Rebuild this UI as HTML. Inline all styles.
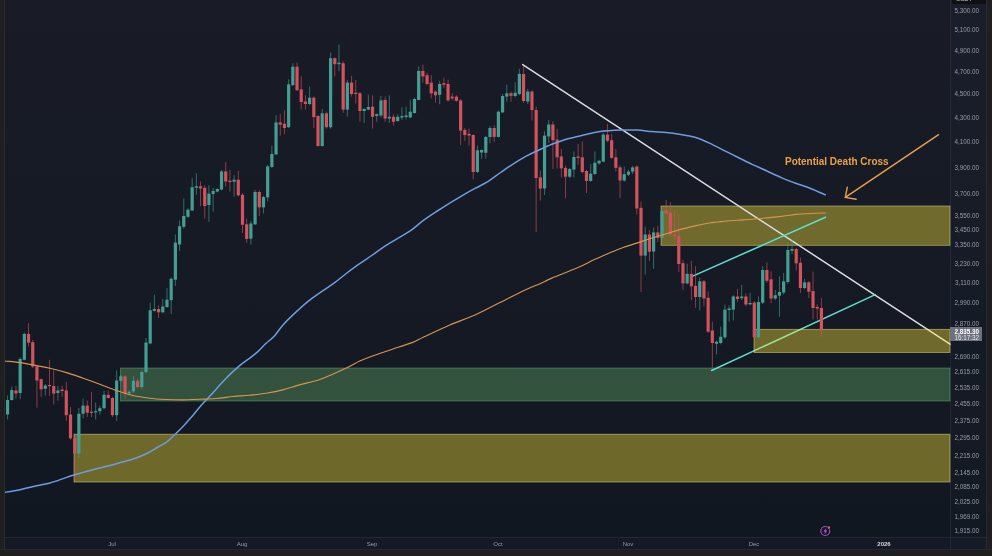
<!DOCTYPE html>
<html><head><meta charset="utf-8"><title>ETHUSDT chart</title>
<style>
html,body{margin:0;padding:0;background:#1f2023;}
body{width:992px;height:556px;overflow:hidden;position:relative;font-family:"Liberation Sans",sans-serif;}
#chart{position:absolute;left:0;top:0;width:992px;height:556px;background:linear-gradient(to bottom,#191c27 0px,#111720 549px);overflow:hidden;}
#lstrip{position:absolute;left:0;top:0;width:5.2px;height:556px;background:#1f1f20;border-right:1px solid #2a2c32;box-sizing:border-box;}
#rstrip{position:absolute;left:986.4px;top:0;width:6px;height:556px;background:#1f1f20;border-left:1.4px solid #282a30;box-sizing:border-box;}
#bstrip{position:absolute;left:0;top:548.8px;width:992px;height:8px;background:#1f1f20;border-top:1.2px solid #25272d;box-sizing:border-box;}
#paxis{position:absolute;left:950px;top:0;width:36px;height:549px;background:rgba(40,46,70,0.10);border-left:1px solid rgba(70,78,105,0.28);box-sizing:border-box;}
#taxis{position:absolute;left:4.5px;top:536.5px;width:981.5px;height:13px;border-top:1px solid rgba(70,78,105,0.28);background:rgba(40,46,70,0.14);box-sizing:border-box;}
.pl{will-change:transform;position:absolute;left:950px;width:29px;text-align:right;font-size:6.3px;line-height:8px;height:8px;color:#989ca9;white-space:nowrap;}
.tl{will-change:transform;position:absolute;top:539.5px;width:40px;text-align:center;font-size:6px;line-height:8px;color:#979ba8;}
.tl.b{font-weight:bold;color:#d6d8de;}
#cur{position:absolute;left:950px;top:327px;width:31.5px;height:14px;background:#6d7180;}
#cur div{will-change:transform;position:absolute;left:0;width:29px;text-align:right;font-size:6.3px;line-height:7px;white-space:nowrap;}
#usdt{will-change:transform;position:absolute;left:952px;top:-5px;width:33.5px;height:9px;background:#0e1014;border-radius:1px;color:#cfd1d6;font-size:6px;line-height:9px;text-align:left;padding-left:4px;box-sizing:border-box;overflow:hidden;}
</style></head><body>
<div id="chart">
<div id="paxis"></div>
<div id="taxis"></div>
<svg width="992" height="556" viewBox="0 0 992 556" style="position:absolute;left:0;top:0;filter:blur(0.4px)"><rect x="661" y="206" width="289" height="39.30000000000001" fill="rgba(255,235,59,0.39)" stroke="rgba(255,240,150,0.55)" stroke-width="0.8"/><rect x="74" y="434.2" width="876" height="47.80000000000001" fill="rgba(255,235,59,0.39)" stroke="rgba(255,240,150,0.55)" stroke-width="0.8"/><rect x="120.4" y="368" width="829.6" height="33" fill="rgba(122,204,122,0.32)" stroke="rgba(120,210,150,0.45)" stroke-width="0.8"/><line x1="522.7" y1="64.6" x2="950" y2="344.2" stroke="#dcdcdf" stroke-width="1.5" stroke-linecap="round"/><line x1="692.8" y1="276.1" x2="825.5" y2="217.2" stroke="#5fe0d0" stroke-width="1.5" stroke-linecap="round"/><line x1="711.6" y1="370.5" x2="875.3" y2="294.6" stroke="#5fe0d0" stroke-width="1.5" stroke-linecap="round"/><rect x="754" y="329.3" width="196" height="23.19999999999999" fill="rgba(255,235,59,0.39)" stroke="rgba(255,240,150,0.55)" stroke-width="0.8"/><g><rect x="7.08" y="395.5" width="1" height="24.0" fill="#459e94" opacity="0.62"/><rect x="5.97" y="400.0" width="3.2" height="14.5" fill="#459e94"/><rect x="11.27" y="386.7" width="1" height="13.9" fill="#459e94" opacity="0.62"/><rect x="10.17" y="390.0" width="3.2" height="10.0" fill="#459e94"/><rect x="15.46" y="386.0" width="1" height="12.6" fill="#d1535c" opacity="0.62"/><rect x="14.36" y="390.5" width="3.2" height="3.0" fill="#d1535c"/><rect x="19.66" y="357.3" width="1" height="42.0" fill="#459e94" opacity="0.62"/><rect x="18.56" y="359.0" width="3.2" height="34.0" fill="#459e94"/><rect x="23.86" y="332.6" width="1" height="27.7" fill="#459e94" opacity="0.62"/><rect x="22.75" y="333.9" width="3.2" height="25.9" fill="#459e94"/><rect x="28.05" y="323.0" width="1" height="23.4" fill="#d1535c" opacity="0.62"/><rect x="26.95" y="333.9" width="3.2" height="8.8" fill="#d1535c"/><rect x="32.24" y="340.0" width="1" height="28.0" fill="#d1535c" opacity="0.62"/><rect x="31.14" y="342.2" width="3.2" height="24.4" fill="#d1535c"/><rect x="36.44" y="365.0" width="1" height="42.7" fill="#d1535c" opacity="0.62"/><rect x="35.34" y="366.6" width="3.2" height="13.9" fill="#d1535c"/><rect x="40.64" y="378.4" width="1" height="18.4" fill="#d1535c" opacity="0.62"/><rect x="39.54" y="379.2" width="3.2" height="10.1" fill="#d1535c"/><rect x="44.83" y="384.0" width="1" height="11.6" fill="#459e94" opacity="0.62"/><rect x="43.73" y="385.5" width="3.2" height="3.3" fill="#459e94"/><rect x="49.02" y="359.8" width="1" height="36.2" fill="#d1535c" opacity="0.62"/><rect x="47.92" y="385.0" width="3.2" height="1.2" fill="#d1535c"/><rect x="53.22" y="370.4" width="1" height="34.0" fill="#d1535c" opacity="0.62"/><rect x="52.12" y="386.0" width="3.2" height="7.6" fill="#d1535c"/><rect x="57.41" y="386.0" width="1" height="14.6" fill="#459e94" opacity="0.62"/><rect x="56.31" y="390.5" width="3.2" height="2.5" fill="#459e94"/><rect x="61.61" y="386.0" width="1" height="10.8" fill="#d1535c" opacity="0.62"/><rect x="60.51" y="389.5" width="3.2" height="1.5" fill="#d1535c"/><rect x="65.80" y="381.7" width="1" height="39.1" fill="#d1535c" opacity="0.62"/><rect x="64.70" y="390.5" width="3.2" height="24.7" fill="#d1535c"/><rect x="70.00" y="407.0" width="1" height="32.6" fill="#d1535c" opacity="0.62"/><rect x="68.90" y="414.5" width="3.2" height="23.9" fill="#d1535c"/><rect x="74.20" y="437.0" width="1" height="43.0" fill="#d1535c" opacity="0.62"/><rect x="73.10" y="438.4" width="3.2" height="15.1" fill="#d1535c"/><rect x="78.39" y="408.0" width="1" height="50.0" fill="#459e94" opacity="0.62"/><rect x="77.29" y="413.7" width="3.2" height="39.8" fill="#459e94"/><rect x="82.58" y="398.6" width="1" height="19.6" fill="#459e94" opacity="0.62"/><rect x="81.48" y="405.6" width="3.2" height="8.1" fill="#459e94"/><rect x="86.78" y="400.6" width="1" height="16.4" fill="#d1535c" opacity="0.62"/><rect x="85.68" y="405.6" width="3.2" height="7.1" fill="#d1535c"/><rect x="90.98" y="391.8" width="1" height="25.2" fill="#d1535c" opacity="0.62"/><rect x="89.88" y="411.7" width="3.2" height="1.2" fill="#d1535c"/><rect x="95.17" y="402.6" width="1" height="16.9" fill="#459e94" opacity="0.62"/><rect x="94.07" y="411.2" width="3.2" height="1.2" fill="#459e94"/><rect x="99.36" y="405.6" width="1" height="8.9" fill="#459e94" opacity="0.62"/><rect x="98.27" y="408.2" width="3.2" height="3.0" fill="#459e94"/><rect x="103.56" y="390.5" width="1" height="18.9" fill="#459e94" opacity="0.62"/><rect x="102.46" y="394.8" width="3.2" height="13.4" fill="#459e94"/><rect x="107.76" y="390.5" width="1" height="8.1" fill="#d1535c" opacity="0.62"/><rect x="106.66" y="394.8" width="3.2" height="3.2" fill="#d1535c"/><rect x="111.95" y="396.8" width="1" height="20.2" fill="#d1535c" opacity="0.62"/><rect x="110.85" y="398.0" width="3.2" height="17.2" fill="#d1535c"/><rect x="116.14" y="370.4" width="1" height="50.4" fill="#459e94" opacity="0.62"/><rect x="115.05" y="380.5" width="3.2" height="34.7" fill="#459e94"/><rect x="120.34" y="374.8" width="1" height="6.7" fill="#459e94" opacity="0.62"/><rect x="119.24" y="376.3" width="3.2" height="4.5" fill="#459e94"/><rect x="124.54" y="375.3" width="1" height="23.2" fill="#d1535c" opacity="0.62"/><rect x="123.44" y="376.3" width="3.2" height="17.1" fill="#d1535c"/><rect x="128.73" y="390.5" width="1" height="4.5" fill="#459e94" opacity="0.62"/><rect x="127.63" y="391.7" width="3.2" height="1.7" fill="#459e94"/><rect x="132.92" y="375.8" width="1" height="17.2" fill="#459e94" opacity="0.62"/><rect x="131.82" y="380.8" width="3.2" height="10.6" fill="#459e94"/><rect x="137.12" y="378.8" width="1" height="9.6" fill="#d1535c" opacity="0.62"/><rect x="136.02" y="380.8" width="3.2" height="6.3" fill="#d1535c"/><rect x="141.31" y="370.7" width="1" height="18.9" fill="#459e94" opacity="0.62"/><rect x="140.22" y="372.0" width="3.2" height="15.1" fill="#459e94"/><rect x="145.51" y="338.0" width="1" height="35.3" fill="#459e94" opacity="0.62"/><rect x="144.41" y="342.5" width="3.2" height="29.5" fill="#459e94"/><rect x="149.70" y="302.7" width="1" height="41.6" fill="#459e94" opacity="0.62"/><rect x="148.60" y="310.3" width="3.2" height="33.2" fill="#459e94"/><rect x="153.90" y="294.7" width="1" height="16.9" fill="#459e94" opacity="0.62"/><rect x="152.80" y="309.0" width="3.2" height="1.8" fill="#459e94"/><rect x="158.09" y="305.3" width="1" height="12.6" fill="#d1535c" opacity="0.62"/><rect x="157.00" y="309.0" width="3.2" height="3.3" fill="#d1535c"/><rect x="162.29" y="299.0" width="1" height="14.3" fill="#459e94" opacity="0.62"/><rect x="161.19" y="306.5" width="3.2" height="5.8" fill="#459e94"/><rect x="166.48" y="288.0" width="1" height="19.8" fill="#459e94" opacity="0.62"/><rect x="165.38" y="299.7" width="3.2" height="7.3" fill="#459e94"/><rect x="170.68" y="277.6" width="1" height="36.4" fill="#459e94" opacity="0.62"/><rect x="169.58" y="278.8" width="3.2" height="21.4" fill="#459e94"/><rect x="174.88" y="234.4" width="1" height="51.6" fill="#459e94" opacity="0.62"/><rect x="173.78" y="242.7" width="3.2" height="37.0" fill="#459e94"/><rect x="179.07" y="220.5" width="1" height="30.3" fill="#459e94" opacity="0.62"/><rect x="177.97" y="226.3" width="3.2" height="18.2" fill="#459e94"/><rect x="183.26" y="198.4" width="1" height="30.2" fill="#459e94" opacity="0.62"/><rect x="182.16" y="216.0" width="3.2" height="10.8" fill="#459e94"/><rect x="187.46" y="208.4" width="1" height="9.6" fill="#459e94" opacity="0.62"/><rect x="186.36" y="209.7" width="3.2" height="7.1" fill="#459e94"/><rect x="191.66" y="178.2" width="1" height="32.8" fill="#459e94" opacity="0.62"/><rect x="190.56" y="187.3" width="3.2" height="23.2" fill="#459e94"/><rect x="195.85" y="173.2" width="1" height="21.6" fill="#459e94" opacity="0.62"/><rect x="194.75" y="186.3" width="3.2" height="1.5" fill="#459e94"/><rect x="200.04" y="181.5" width="1" height="24.5" fill="#d1535c" opacity="0.62"/><rect x="198.94" y="186.3" width="3.2" height="2.2" fill="#d1535c"/><rect x="204.24" y="185.3" width="1" height="33.2" fill="#d1535c" opacity="0.62"/><rect x="203.14" y="187.8" width="3.2" height="18.2" fill="#d1535c"/><rect x="208.44" y="185.3" width="1" height="36.5" fill="#459e94" opacity="0.62"/><rect x="207.34" y="193.6" width="3.2" height="11.4" fill="#459e94"/><rect x="212.63" y="187.8" width="1" height="23.9" fill="#459e94" opacity="0.62"/><rect x="211.53" y="191.0" width="3.2" height="3.0" fill="#459e94"/><rect x="216.82" y="188.3" width="1" height="4.0" fill="#459e94" opacity="0.62"/><rect x="215.72" y="189.0" width="3.2" height="2.6" fill="#459e94"/><rect x="221.02" y="170.0" width="1" height="20.3" fill="#459e94" opacity="0.62"/><rect x="219.92" y="171.4" width="3.2" height="18.1" fill="#459e94"/><rect x="225.22" y="162.0" width="1" height="24.5" fill="#d1535c" opacity="0.62"/><rect x="224.12" y="171.4" width="3.2" height="10.1" fill="#d1535c"/><rect x="229.41" y="170.0" width="1" height="21.6" fill="#d1535c" opacity="0.62"/><rect x="228.31" y="180.7" width="3.2" height="1.3" fill="#d1535c"/><rect x="233.60" y="175.2" width="1" height="21.4" fill="#459e94" opacity="0.62"/><rect x="232.50" y="179.7" width="3.2" height="2.0" fill="#459e94"/><rect x="237.80" y="170.7" width="1" height="25.9" fill="#d1535c" opacity="0.62"/><rect x="236.70" y="179.7" width="3.2" height="15.6" fill="#d1535c"/><rect x="242.00" y="193.3" width="1" height="39.7" fill="#d1535c" opacity="0.62"/><rect x="240.90" y="194.8" width="3.2" height="30.0" fill="#d1535c"/><rect x="246.19" y="218.5" width="1" height="24.2" fill="#d1535c" opacity="0.62"/><rect x="245.09" y="224.3" width="3.2" height="14.7" fill="#d1535c"/><rect x="250.38" y="221.0" width="1" height="23.5" fill="#459e94" opacity="0.62"/><rect x="249.28" y="223.5" width="3.2" height="15.2" fill="#459e94"/><rect x="254.58" y="189.8" width="1" height="35.2" fill="#459e94" opacity="0.62"/><rect x="253.48" y="192.0" width="3.2" height="32.3" fill="#459e94"/><rect x="258.78" y="190.3" width="1" height="25.7" fill="#d1535c" opacity="0.62"/><rect x="257.68" y="192.0" width="3.2" height="15.4" fill="#d1535c"/><rect x="262.97" y="195.8" width="1" height="17.7" fill="#459e94" opacity="0.62"/><rect x="261.87" y="197.0" width="3.2" height="10.4" fill="#459e94"/><rect x="267.17" y="165.0" width="1" height="36.6" fill="#459e94" opacity="0.62"/><rect x="266.06" y="166.4" width="3.2" height="31.0" fill="#459e94"/><rect x="271.36" y="145.6" width="1" height="22.4" fill="#459e94" opacity="0.62"/><rect x="270.26" y="153.9" width="3.2" height="13.1" fill="#459e94"/><rect x="275.56" y="115.3" width="1" height="39.7" fill="#459e94" opacity="0.62"/><rect x="274.45" y="122.4" width="3.2" height="32.0" fill="#459e94"/><rect x="279.75" y="114.0" width="1" height="21.5" fill="#d1535c" opacity="0.62"/><rect x="278.65" y="122.4" width="3.2" height="2.3" fill="#d1535c"/><rect x="283.94" y="110.3" width="1" height="23.9" fill="#d1535c" opacity="0.62"/><rect x="282.84" y="123.7" width="3.2" height="4.3" fill="#d1535c"/><rect x="288.14" y="79.3" width="1" height="48.7" fill="#459e94" opacity="0.62"/><rect x="287.04" y="84.4" width="3.2" height="42.8" fill="#459e94"/><rect x="292.33" y="63.2" width="1" height="22.7" fill="#459e94" opacity="0.62"/><rect x="291.23" y="66.7" width="3.2" height="18.4" fill="#459e94"/><rect x="296.53" y="62.4" width="1" height="28.6" fill="#d1535c" opacity="0.62"/><rect x="295.43" y="66.7" width="3.2" height="23.5" fill="#d1535c"/><rect x="300.72" y="76.3" width="1" height="33.3" fill="#d1535c" opacity="0.62"/><rect x="299.62" y="89.4" width="3.2" height="12.6" fill="#d1535c"/><rect x="304.92" y="95.2" width="1" height="14.4" fill="#d1535c" opacity="0.62"/><rect x="303.82" y="101.5" width="3.2" height="2.5" fill="#d1535c"/><rect x="309.12" y="86.4" width="1" height="18.9" fill="#459e94" opacity="0.62"/><rect x="308.01" y="97.7" width="3.2" height="6.3" fill="#459e94"/><rect x="313.31" y="96.5" width="1" height="31.5" fill="#d1535c" opacity="0.62"/><rect x="312.21" y="97.7" width="3.2" height="19.4" fill="#d1535c"/><rect x="317.50" y="115.3" width="1" height="31.5" fill="#d1535c" opacity="0.62"/><rect x="316.40" y="116.0" width="3.2" height="30.0" fill="#d1535c"/><rect x="321.70" y="109.0" width="1" height="37.8" fill="#459e94" opacity="0.62"/><rect x="320.60" y="113.3" width="3.2" height="32.7" fill="#459e94"/><rect x="325.90" y="111.6" width="1" height="17.1" fill="#d1535c" opacity="0.62"/><rect x="324.80" y="113.3" width="3.2" height="13.9" fill="#d1535c"/><rect x="330.09" y="52.4" width="1" height="76.3" fill="#459e94" opacity="0.62"/><rect x="328.99" y="58.2" width="3.2" height="69.0" fill="#459e94"/><rect x="334.29" y="57.4" width="1" height="18.9" fill="#d1535c" opacity="0.62"/><rect x="333.19" y="58.2" width="3.2" height="6.0" fill="#d1535c"/><rect x="338.48" y="44.8" width="1" height="26.5" fill="#459e94" opacity="0.62"/><rect x="337.38" y="62.7" width="3.2" height="1.5" fill="#459e94"/><rect x="342.68" y="61.2" width="1" height="51.6" fill="#d1535c" opacity="0.62"/><rect x="341.57" y="63.2" width="3.2" height="46.4" fill="#d1535c"/><rect x="346.87" y="80.0" width="1" height="36.6" fill="#459e94" opacity="0.62"/><rect x="345.77" y="82.6" width="3.2" height="27.0" fill="#459e94"/><rect x="351.06" y="75.8" width="1" height="20.7" fill="#d1535c" opacity="0.62"/><rect x="349.96" y="82.6" width="3.2" height="11.4" fill="#d1535c"/><rect x="355.26" y="80.0" width="1" height="23.5" fill="#d1535c" opacity="0.62"/><rect x="354.16" y="92.7" width="3.2" height="1.3" fill="#d1535c"/><rect x="359.45" y="92.0" width="1" height="29.6" fill="#d1535c" opacity="0.62"/><rect x="358.35" y="93.2" width="3.2" height="17.8" fill="#d1535c"/><rect x="363.65" y="107.8" width="1" height="15.2" fill="#459e94" opacity="0.62"/><rect x="362.55" y="109.0" width="3.2" height="2.0" fill="#459e94"/><rect x="367.84" y="94.4" width="1" height="15.9" fill="#459e94" opacity="0.62"/><rect x="366.74" y="107.0" width="3.2" height="2.6" fill="#459e94"/><rect x="372.04" y="95.3" width="1" height="33.3" fill="#d1535c" opacity="0.62"/><rect x="370.94" y="106.7" width="3.2" height="10.1" fill="#d1535c"/><rect x="376.24" y="113.5" width="1" height="8.3" fill="#459e94" opacity="0.62"/><rect x="375.13" y="114.2" width="3.2" height="1.8" fill="#459e94"/><rect x="380.43" y="95.8" width="1" height="21.7" fill="#459e94" opacity="0.62"/><rect x="379.33" y="100.4" width="3.2" height="15.1" fill="#459e94"/><rect x="384.62" y="96.6" width="1" height="25.2" fill="#d1535c" opacity="0.62"/><rect x="383.52" y="99.9" width="3.2" height="18.6" fill="#d1535c"/><rect x="388.82" y="95.3" width="1" height="27.7" fill="#459e94" opacity="0.62"/><rect x="387.72" y="116.8" width="3.2" height="1.7" fill="#459e94"/><rect x="393.01" y="114.2" width="1" height="11.4" fill="#d1535c" opacity="0.62"/><rect x="391.91" y="116.8" width="3.2" height="5.0" fill="#d1535c"/><rect x="397.21" y="114.2" width="1" height="7.6" fill="#459e94" opacity="0.62"/><rect x="396.11" y="116.8" width="3.2" height="4.2" fill="#459e94"/><rect x="401.41" y="107.4" width="1" height="12.6" fill="#459e94" opacity="0.62"/><rect x="400.31" y="116.0" width="3.2" height="1.5" fill="#459e94"/><rect x="405.60" y="106.7" width="1" height="12.6" fill="#459e94" opacity="0.62"/><rect x="404.50" y="115.5" width="3.2" height="1.5" fill="#459e94"/><rect x="409.80" y="99.9" width="1" height="18.1" fill="#459e94" opacity="0.62"/><rect x="408.69" y="111.7" width="3.2" height="5.8" fill="#459e94"/><rect x="413.99" y="97.9" width="1" height="15.8" fill="#459e94" opacity="0.62"/><rect x="412.89" y="99.0" width="3.2" height="14.0" fill="#459e94"/><rect x="418.19" y="66.4" width="1" height="34.0" fill="#459e94" opacity="0.62"/><rect x="417.08" y="70.9" width="3.2" height="29.0" fill="#459e94"/><rect x="422.38" y="64.6" width="1" height="18.1" fill="#d1535c" opacity="0.62"/><rect x="421.28" y="70.9" width="3.2" height="5.5" fill="#d1535c"/><rect x="426.57" y="72.7" width="1" height="12.6" fill="#d1535c" opacity="0.62"/><rect x="425.47" y="75.2" width="3.2" height="8.8" fill="#d1535c"/><rect x="430.77" y="75.2" width="1" height="23.2" fill="#d1535c" opacity="0.62"/><rect x="429.67" y="82.7" width="3.2" height="10.6" fill="#d1535c"/><rect x="434.97" y="90.3" width="1" height="12.6" fill="#d1535c" opacity="0.62"/><rect x="433.87" y="91.6" width="3.2" height="3.7" fill="#d1535c"/><rect x="439.16" y="80.7" width="1" height="23.5" fill="#459e94" opacity="0.62"/><rect x="438.06" y="84.0" width="3.2" height="10.8" fill="#459e94"/><rect x="443.36" y="77.7" width="1" height="10.1" fill="#d1535c" opacity="0.62"/><rect x="442.25" y="83.2" width="3.2" height="1.6" fill="#d1535c"/><rect x="447.55" y="79.7" width="1" height="21.9" fill="#d1535c" opacity="0.62"/><rect x="446.45" y="84.0" width="3.2" height="16.4" fill="#d1535c"/><rect x="451.75" y="93.3" width="1" height="7.1" fill="#d1535c" opacity="0.62"/><rect x="450.64" y="96.6" width="3.2" height="1.8" fill="#d1535c"/><rect x="455.94" y="95.3" width="1" height="6.3" fill="#d1535c" opacity="0.62"/><rect x="454.84" y="96.6" width="3.2" height="4.3" fill="#d1535c"/><rect x="460.13" y="99.0" width="1" height="46.2" fill="#d1535c" opacity="0.62"/><rect x="459.03" y="100.4" width="3.2" height="30.2" fill="#d1535c"/><rect x="464.33" y="128.0" width="1" height="13.0" fill="#d1535c" opacity="0.62"/><rect x="463.23" y="130.0" width="3.2" height="5.0" fill="#d1535c"/><rect x="468.53" y="128.6" width="1" height="17.1" fill="#d1535c" opacity="0.62"/><rect x="467.43" y="133.9" width="3.2" height="1.7" fill="#d1535c"/><rect x="472.72" y="134.4" width="1" height="44.6" fill="#d1535c" opacity="0.62"/><rect x="471.62" y="135.0" width="3.2" height="37.0" fill="#d1535c"/><rect x="476.92" y="145.7" width="1" height="27.3" fill="#459e94" opacity="0.62"/><rect x="475.81" y="150.3" width="3.2" height="21.7" fill="#459e94"/><rect x="481.11" y="149.5" width="1" height="9.3" fill="#459e94" opacity="0.62"/><rect x="480.01" y="150.0" width="3.2" height="2.5" fill="#459e94"/><rect x="485.31" y="136.0" width="1" height="22.8" fill="#459e94" opacity="0.62"/><rect x="484.20" y="137.0" width="3.2" height="15.8" fill="#459e94"/><rect x="489.50" y="126.0" width="1" height="17.2" fill="#459e94" opacity="0.62"/><rect x="488.40" y="128.0" width="3.2" height="9.0" fill="#459e94"/><rect x="493.69" y="125.5" width="1" height="16.4" fill="#d1535c" opacity="0.62"/><rect x="492.59" y="128.0" width="3.2" height="8.9" fill="#d1535c"/><rect x="497.89" y="110.4" width="1" height="27.2" fill="#459e94" opacity="0.62"/><rect x="496.79" y="111.7" width="3.2" height="25.2" fill="#459e94"/><rect x="502.09" y="94.0" width="1" height="19.0" fill="#459e94" opacity="0.62"/><rect x="500.99" y="96.0" width="3.2" height="16.4" fill="#459e94"/><rect x="506.28" y="84.7" width="1" height="16.9" fill="#459e94" opacity="0.62"/><rect x="505.18" y="93.3" width="3.2" height="3.3" fill="#459e94"/><rect x="510.48" y="91.5" width="1" height="10.1" fill="#d1535c" opacity="0.62"/><rect x="509.38" y="93.3" width="3.2" height="2.5" fill="#d1535c"/><rect x="514.67" y="82.2" width="1" height="15.1" fill="#459e94" opacity="0.62"/><rect x="513.57" y="92.8" width="3.2" height="3.2" fill="#459e94"/><rect x="518.87" y="68.9" width="1" height="26.4" fill="#459e94" opacity="0.62"/><rect x="517.76" y="73.9" width="3.2" height="20.1" fill="#459e94"/><rect x="523.06" y="66.0" width="1" height="36.9" fill="#d1535c" opacity="0.62"/><rect x="521.96" y="74.0" width="3.2" height="27.0" fill="#d1535c"/><rect x="527.26" y="89.0" width="1" height="15.0" fill="#459e94" opacity="0.62"/><rect x="526.16" y="91.5" width="3.2" height="10.1" fill="#459e94"/><rect x="531.45" y="90.3" width="1" height="30.2" fill="#d1535c" opacity="0.62"/><rect x="530.35" y="91.5" width="3.2" height="18.5" fill="#d1535c"/><rect x="535.65" y="106.6" width="1" height="125.4" fill="#d1535c" opacity="0.62"/><rect x="534.55" y="110.0" width="3.2" height="68.0" fill="#d1535c"/><rect x="539.84" y="170.4" width="1" height="30.2" fill="#d1535c" opacity="0.62"/><rect x="538.74" y="177.4" width="3.2" height="11.1" fill="#d1535c"/><rect x="544.04" y="131.3" width="1" height="63.7" fill="#459e94" opacity="0.62"/><rect x="542.94" y="135.6" width="3.2" height="52.9" fill="#459e94"/><rect x="548.23" y="120.0" width="1" height="22.7" fill="#459e94" opacity="0.62"/><rect x="547.13" y="124.5" width="3.2" height="11.9" fill="#459e94"/><rect x="552.43" y="121.3" width="1" height="47.7" fill="#d1535c" opacity="0.62"/><rect x="551.33" y="124.5" width="3.2" height="15.7" fill="#d1535c"/><rect x="556.62" y="128.8" width="1" height="39.6" fill="#d1535c" opacity="0.62"/><rect x="555.52" y="139.6" width="3.2" height="17.7" fill="#d1535c"/><rect x="560.82" y="149.0" width="1" height="28.4" fill="#d1535c" opacity="0.62"/><rect x="559.72" y="156.5" width="3.2" height="11.9" fill="#d1535c"/><rect x="565.01" y="165.8" width="1" height="32.2" fill="#d1535c" opacity="0.62"/><rect x="563.91" y="167.9" width="3.2" height="8.8" fill="#d1535c"/><rect x="569.21" y="167.9" width="1" height="10.1" fill="#459e94" opacity="0.62"/><rect x="568.11" y="169.0" width="3.2" height="7.7" fill="#459e94"/><rect x="573.40" y="151.5" width="1" height="25.9" fill="#459e94" opacity="0.62"/><rect x="572.30" y="157.0" width="3.2" height="12.6" fill="#459e94"/><rect x="577.60" y="144.0" width="1" height="20.8" fill="#d1535c" opacity="0.62"/><rect x="576.50" y="156.5" width="3.2" height="1.3" fill="#d1535c"/><rect x="581.79" y="141.4" width="1" height="32.0" fill="#d1535c" opacity="0.62"/><rect x="580.69" y="157.3" width="3.2" height="14.7" fill="#d1535c"/><rect x="585.99" y="170.0" width="1" height="23.0" fill="#d1535c" opacity="0.62"/><rect x="584.89" y="171.0" width="3.2" height="10.0" fill="#d1535c"/><rect x="590.18" y="164.0" width="1" height="17.7" fill="#459e94" opacity="0.62"/><rect x="589.08" y="173.7" width="3.2" height="7.3" fill="#459e94"/><rect x="594.38" y="151.5" width="1" height="23.5" fill="#459e94" opacity="0.62"/><rect x="593.27" y="162.8" width="3.2" height="11.2" fill="#459e94"/><rect x="598.57" y="159.8" width="1" height="5.0" fill="#459e94" opacity="0.62"/><rect x="597.47" y="160.8" width="3.2" height="2.5" fill="#459e94"/><rect x="602.77" y="133.0" width="1" height="29.3" fill="#459e94" opacity="0.62"/><rect x="601.67" y="134.6" width="3.2" height="27.0" fill="#459e94"/><rect x="606.96" y="123.8" width="1" height="18.4" fill="#d1535c" opacity="0.62"/><rect x="605.86" y="134.6" width="3.2" height="6.1" fill="#d1535c"/><rect x="611.16" y="133.9" width="1" height="25.1" fill="#d1535c" opacity="0.62"/><rect x="610.06" y="140.2" width="3.2" height="17.6" fill="#d1535c"/><rect x="615.35" y="149.0" width="1" height="22.6" fill="#d1535c" opacity="0.62"/><rect x="614.25" y="157.3" width="3.2" height="10.6" fill="#d1535c"/><rect x="619.55" y="165.3" width="1" height="32.7" fill="#d1535c" opacity="0.62"/><rect x="618.45" y="167.4" width="3.2" height="13.1" fill="#d1535c"/><rect x="623.74" y="166.6" width="1" height="15.1" fill="#459e94" opacity="0.62"/><rect x="622.64" y="174.2" width="3.2" height="6.3" fill="#459e94"/><rect x="627.94" y="170.0" width="1" height="6.0" fill="#459e94" opacity="0.62"/><rect x="626.84" y="171.6" width="3.2" height="3.1" fill="#459e94"/><rect x="632.13" y="165.8" width="1" height="8.2" fill="#459e94" opacity="0.62"/><rect x="631.03" y="167.4" width="3.2" height="4.2" fill="#459e94"/><rect x="636.33" y="165.3" width="1" height="49.2" fill="#d1535c" opacity="0.62"/><rect x="635.23" y="166.6" width="3.2" height="41.9" fill="#d1535c"/><rect x="640.52" y="201.5" width="1" height="90.5" fill="#d1535c" opacity="0.62"/><rect x="639.42" y="207.8" width="3.2" height="47.8" fill="#d1535c"/><rect x="644.72" y="226.5" width="1" height="47.9" fill="#459e94" opacity="0.62"/><rect x="643.62" y="234.5" width="3.2" height="21.1" fill="#459e94"/><rect x="648.91" y="230.0" width="1" height="31.0" fill="#d1535c" opacity="0.62"/><rect x="647.81" y="234.5" width="3.2" height="17.2" fill="#d1535c"/><rect x="653.11" y="227.5" width="1" height="41.5" fill="#459e94" opacity="0.62"/><rect x="652.01" y="232.4" width="3.2" height="19.1" fill="#459e94"/><rect x="657.30" y="225.8" width="1" height="16.2" fill="#d1535c" opacity="0.62"/><rect x="656.20" y="232.4" width="3.2" height="5.5" fill="#d1535c"/><rect x="661.50" y="210.2" width="1" height="28.3" fill="#459e94" opacity="0.62"/><rect x="660.40" y="211.0" width="3.2" height="26.9" fill="#459e94"/><rect x="665.69" y="200.0" width="1" height="14.3" fill="#d1535c" opacity="0.62"/><rect x="664.59" y="210.2" width="3.2" height="3.3" fill="#d1535c"/><rect x="669.89" y="202.0" width="1" height="33.3" fill="#d1535c" opacity="0.62"/><rect x="668.79" y="212.7" width="3.2" height="21.8" fill="#d1535c"/><rect x="674.08" y="210.0" width="1" height="30.0" fill="#d1535c" opacity="0.62"/><rect x="672.98" y="234.5" width="3.2" height="1.5" fill="#d1535c"/><rect x="678.28" y="214.3" width="1" height="57.7" fill="#d1535c" opacity="0.62"/><rect x="677.18" y="236.0" width="3.2" height="28.0" fill="#d1535c"/><rect x="682.47" y="260.0" width="1" height="30.0" fill="#d1535c" opacity="0.62"/><rect x="681.37" y="263.2" width="3.2" height="20.2" fill="#d1535c"/><rect x="686.67" y="263.7" width="1" height="20.7" fill="#459e94" opacity="0.62"/><rect x="685.57" y="273.8" width="3.2" height="9.6" fill="#459e94"/><rect x="690.86" y="260.7" width="1" height="39.5" fill="#d1535c" opacity="0.62"/><rect x="689.76" y="273.8" width="3.2" height="12.6" fill="#d1535c"/><rect x="695.06" y="266.2" width="1" height="41.6" fill="#d1535c" opacity="0.62"/><rect x="693.96" y="285.9" width="3.2" height="11.1" fill="#d1535c"/><rect x="699.25" y="277.6" width="1" height="32.7" fill="#459e94" opacity="0.62"/><rect x="698.15" y="281.3" width="3.2" height="15.7" fill="#459e94"/><rect x="703.45" y="280.0" width="1" height="26.5" fill="#d1535c" opacity="0.62"/><rect x="702.35" y="281.3" width="3.2" height="17.2" fill="#d1535c"/><rect x="707.64" y="291.4" width="1" height="41.6" fill="#d1535c" opacity="0.62"/><rect x="706.54" y="297.7" width="3.2" height="34.0" fill="#d1535c"/><rect x="711.84" y="321.6" width="1" height="46.4" fill="#d1535c" opacity="0.62"/><rect x="710.74" y="330.5" width="3.2" height="12.5" fill="#d1535c"/><rect x="716.03" y="340.5" width="1" height="13.9" fill="#459e94" opacity="0.62"/><rect x="714.93" y="341.8" width="3.2" height="2.0" fill="#459e94"/><rect x="720.23" y="326.7" width="1" height="17.6" fill="#459e94" opacity="0.62"/><rect x="719.13" y="336.8" width="3.2" height="6.2" fill="#459e94"/><rect x="724.42" y="304.5" width="1" height="34.3" fill="#459e94" opacity="0.62"/><rect x="723.32" y="309.6" width="3.2" height="27.7" fill="#459e94"/><rect x="728.62" y="305.3" width="1" height="16.3" fill="#459e94" opacity="0.62"/><rect x="727.52" y="308.5" width="3.2" height="1.5" fill="#459e94"/><rect x="732.81" y="295.2" width="1" height="25.2" fill="#459e94" opacity="0.62"/><rect x="731.71" y="296.5" width="3.2" height="13.1" fill="#459e94"/><rect x="737.01" y="288.9" width="1" height="13.1" fill="#d1535c" opacity="0.62"/><rect x="735.91" y="296.5" width="3.2" height="2.5" fill="#d1535c"/><rect x="741.20" y="285.0" width="1" height="15.0" fill="#459e94" opacity="0.62"/><rect x="740.10" y="296.5" width="3.2" height="1.7" fill="#459e94"/><rect x="745.40" y="293.4" width="1" height="13.1" fill="#d1535c" opacity="0.62"/><rect x="744.30" y="296.5" width="3.2" height="8.0" fill="#d1535c"/><rect x="749.59" y="292.7" width="1" height="12.6" fill="#459e94" opacity="0.62"/><rect x="748.49" y="303.0" width="3.2" height="1.3" fill="#459e94"/><rect x="753.79" y="301.0" width="1" height="37.0" fill="#d1535c" opacity="0.62"/><rect x="752.69" y="302.7" width="3.2" height="34.6" fill="#d1535c"/><rect x="757.98" y="296.5" width="1" height="41.5" fill="#459e94" opacity="0.62"/><rect x="756.88" y="302.0" width="3.2" height="35.3" fill="#459e94"/><rect x="762.18" y="266.2" width="1" height="37.8" fill="#459e94" opacity="0.62"/><rect x="761.08" y="270.0" width="3.2" height="32.7" fill="#459e94"/><rect x="766.37" y="262.4" width="1" height="20.2" fill="#d1535c" opacity="0.62"/><rect x="765.27" y="270.0" width="3.2" height="10.8" fill="#d1535c"/><rect x="770.57" y="271.3" width="1" height="31.7" fill="#d1535c" opacity="0.62"/><rect x="769.47" y="279.3" width="3.2" height="19.2" fill="#d1535c"/><rect x="774.76" y="290.0" width="1" height="10.2" fill="#459e94" opacity="0.62"/><rect x="773.66" y="295.2" width="3.2" height="3.3" fill="#459e94"/><rect x="778.96" y="276.3" width="1" height="40.5" fill="#459e94" opacity="0.62"/><rect x="777.86" y="292.0" width="3.2" height="3.7" fill="#459e94"/><rect x="783.15" y="273.0" width="1" height="21.4" fill="#459e94" opacity="0.62"/><rect x="782.05" y="281.3" width="3.2" height="11.2" fill="#459e94"/><rect x="787.35" y="243.0" width="1" height="40.6" fill="#459e94" opacity="0.62"/><rect x="786.25" y="250.0" width="3.2" height="32.0" fill="#459e94"/><rect x="791.54" y="240.0" width="1" height="14.0" fill="#459e94" opacity="0.62"/><rect x="790.44" y="249.0" width="3.2" height="1.7" fill="#459e94"/><rect x="795.74" y="247.7" width="1" height="22.6" fill="#d1535c" opacity="0.62"/><rect x="794.64" y="249.0" width="3.2" height="14.3" fill="#d1535c"/><rect x="799.93" y="257.7" width="1" height="35.3" fill="#d1535c" opacity="0.62"/><rect x="798.83" y="262.8" width="3.2" height="25.2" fill="#d1535c"/><rect x="804.13" y="279.0" width="1" height="10.2" fill="#459e94" opacity="0.62"/><rect x="803.03" y="282.4" width="3.2" height="5.6" fill="#459e94"/><rect x="808.32" y="281.0" width="1" height="17.0" fill="#d1535c" opacity="0.62"/><rect x="807.22" y="282.4" width="3.2" height="9.3" fill="#d1535c"/><rect x="812.52" y="271.6" width="1" height="47.9" fill="#d1535c" opacity="0.62"/><rect x="811.42" y="291.0" width="3.2" height="17.0" fill="#d1535c"/><rect x="816.71" y="304.3" width="1" height="15.2" fill="#d1535c" opacity="0.62"/><rect x="815.61" y="306.9" width="3.2" height="1.7" fill="#d1535c"/><rect x="820.91" y="298.0" width="1" height="39.0" fill="#d1535c" opacity="0.62"/><rect x="819.81" y="308.0" width="3.2" height="22.3" fill="#d1535c"/></g><path d="M5.0,492.3 C7.5,491.9 15.3,490.7 20.0,489.7 C24.7,488.7 28.3,487.5 33.3,486.4 C38.3,485.3 44.4,484.5 49.9,483.0 C55.4,481.5 61.0,479.2 66.5,477.4 C72.0,475.6 77.7,474.0 83.2,472.4 C88.8,470.8 94.3,469.4 99.8,468.0 C105.3,466.6 110.9,465.2 116.4,463.7 C121.9,462.2 128.0,460.7 133.0,459.0 C138.0,457.3 142.2,455.7 146.4,453.7 C150.6,451.7 154.7,448.9 158.0,447.0 C161.3,445.1 163.5,444.4 166.3,442.4 C169.1,440.4 171.8,437.4 174.6,434.8 C177.4,432.2 180.2,429.4 183.0,426.5 C185.8,423.6 188.5,420.4 191.3,417.2 C194.1,414.0 196.8,410.4 199.6,407.2 C202.4,404.0 205.1,401.2 207.9,398.2 C210.7,395.2 213.4,392.2 216.2,389.2 C219.0,386.1 221.7,382.8 224.5,379.9 C227.3,377.0 230.1,374.2 232.9,371.6 C235.7,369.0 238.4,366.5 241.2,364.3 C244.0,362.1 246.7,360.4 249.5,358.3 C252.3,356.2 255.0,354.1 257.8,351.6 C260.6,349.1 263.3,345.9 266.1,343.3 C268.9,340.7 271.6,339.0 274.4,336.0 C277.2,333.0 279.3,329.1 282.8,325.2 C286.3,321.3 291.3,316.4 295.6,312.4 C299.9,308.4 304.1,304.5 308.4,301.1 C312.7,297.7 316.9,294.9 321.2,291.9 C325.5,288.9 329.7,286.3 334.0,283.2 C338.3,280.1 342.6,276.2 346.9,273.0 C351.2,269.8 355.4,266.7 359.7,263.7 C364.0,260.7 368.2,258.0 372.5,255.0 C376.8,252.0 381.0,248.6 385.3,245.8 C389.6,243.0 393.8,240.7 398.1,238.1 C402.4,235.5 406.6,233.4 410.9,230.4 C415.2,227.4 419.4,223.3 423.7,220.2 C428.0,217.0 432.2,214.3 436.5,211.5 C440.8,208.7 445.0,206.0 449.3,203.3 C453.6,200.7 457.9,198.1 462.2,195.6 C466.5,193.1 470.7,190.7 475.0,188.4 C479.3,186.1 483.5,184.3 487.8,181.7 C492.1,179.0 496.3,175.5 500.6,172.5 C504.9,169.5 509.1,166.5 513.4,163.8 C517.7,161.1 521.9,158.4 526.2,156.1 C530.5,153.8 534.7,152.0 539.0,150.0 C543.3,148.0 547.5,146.0 551.8,144.3 C556.1,142.6 560.3,141.0 564.6,139.7 C568.9,138.4 572.5,137.8 577.5,136.6 C582.5,135.4 589.2,133.4 594.4,132.4 C599.6,131.4 604.0,131.1 608.8,130.7 C613.6,130.3 618.3,130.2 623.1,130.1 C627.9,130.0 632.7,129.8 637.5,130.1 C642.3,130.3 647.1,131.2 651.9,131.6 C656.7,132.0 661.5,131.9 666.3,132.4 C671.1,132.9 675.9,133.6 680.7,134.4 C685.5,135.2 690.2,135.9 695.0,137.3 C699.8,138.8 704.6,140.9 709.4,143.1 C714.2,145.3 719.0,147.9 723.8,150.3 C728.6,152.7 733.4,155.1 738.2,157.5 C743.0,159.9 747.8,162.3 752.6,164.6 C757.4,166.8 762.1,168.8 766.9,171.0 C771.7,173.2 776.5,175.5 781.3,177.6 C786.1,179.7 790.9,181.5 795.7,183.3 C800.5,185.1 805.2,186.3 810.1,188.2 C815.0,190.1 822.8,193.7 825.3,194.8" fill="none" stroke="#6f9be3" stroke-width="1.5" stroke-linejoin="round" stroke-linecap="round"/><path d="M5.0,361.0 C7.5,361.3 15.3,361.9 20.0,362.6 C24.7,363.3 28.3,364.1 33.3,365.0 C38.3,365.9 44.5,367.0 50.0,368.3 C55.5,369.6 61.0,371.0 66.5,372.6 C72.0,374.2 77.7,376.3 83.2,378.2 C88.8,380.1 94.3,382.1 99.8,384.2 C105.3,386.2 110.9,388.6 116.4,390.5 C121.9,392.4 127.5,394.2 133.0,395.5 C138.6,396.8 144.1,397.5 149.7,398.2 C155.2,398.9 160.8,399.2 166.3,399.5 C171.9,399.8 177.4,399.9 183.0,399.9 C188.6,399.8 194.1,399.4 199.6,399.2 C205.1,399.0 210.6,398.9 216.2,398.5 C221.8,398.1 227.3,397.1 232.9,396.5 C238.5,395.9 244.0,395.8 249.5,395.2 C255.0,394.6 260.6,394.1 266.1,393.2 C271.7,392.3 277.2,391.3 282.8,389.9 C288.4,388.5 293.0,386.7 299.4,384.9 C305.8,383.1 313.3,381.9 321.2,379.0 C329.1,376.1 340.5,370.8 346.9,367.8 C353.3,364.8 355.4,363.1 359.7,361.1 C364.0,359.1 366.1,358.3 372.5,356.0 C378.9,353.7 391.3,349.6 398.1,347.3 C404.9,345.0 409.2,343.8 413.5,342.1 C417.8,340.4 417.7,339.8 423.7,337.0 C429.7,334.2 440.8,328.9 449.3,325.2 C457.9,321.5 466.4,318.8 475.0,315.0 C483.6,311.2 492.1,306.5 500.6,302.2 C509.1,297.9 519.8,292.4 526.2,289.4 C532.6,286.4 534.7,286.1 539.0,284.2 C543.3,282.3 545.4,280.8 551.8,278.1 C558.2,275.4 570.4,270.9 577.5,267.8 C584.6,264.7 589.2,262.0 594.4,259.6 C599.6,257.2 604.0,255.2 608.8,253.2 C613.6,251.2 618.3,249.2 623.1,247.5 C627.9,245.8 632.7,244.5 637.5,242.9 C642.3,241.3 647.1,239.5 651.9,238.0 C656.7,236.5 661.5,235.1 666.3,233.7 C671.1,232.3 675.9,230.7 680.7,229.4 C685.5,228.1 690.2,227.0 695.0,225.9 C699.8,224.8 704.6,223.8 709.4,223.0 C714.2,222.2 719.0,221.8 723.8,221.3 C728.6,220.8 733.4,220.5 738.2,220.2 C743.0,219.9 747.8,219.7 752.6,219.3 C757.4,218.9 762.1,218.4 766.9,217.9 C771.7,217.4 776.5,217.0 781.3,216.4 C786.1,215.8 790.9,214.9 795.7,214.4 C800.5,213.9 805.2,213.7 810.1,213.5 C815.0,213.3 822.8,213.1 825.3,213.0" fill="none" stroke="#d9944e" stroke-width="1.15" stroke-linejoin="round" stroke-linecap="round"/><g stroke="#eaa24a" stroke-width="1.4" fill="none" stroke-linecap="round" stroke-linejoin="round"><line x1="938.6" y1="134.7" x2="845.3" y2="197.4"/><polyline points="847.3,187.2 845.3,197.4 856.1,199.3"/></g><text x="785" y="164.6" font-family="Liberation Sans, sans-serif" font-weight="bold" font-size="10.4" fill="#eaa24a" textLength="103.6" lengthAdjust="spacingAndGlyphs">Potential Death Cross</text><g><circle cx="825.3" cy="531" r="4.5" fill="#260c36" stroke="#93609f" stroke-width="1.1"/><path d="M826.4,527.9 L823.5,531.6 L825.3,531.6 L824.3,534.2 L827.2,530.4 L825.4,530.4 Z" fill="#a07fd0"/><circle cx="828.9" cy="527.6" r="1.9" fill="#1a1020"/><circle cx="828.9" cy="527.6" r="1.3" fill="#d45c6c"/></g></svg>
<div class="pl" style="top:6.8px">5,300.00</div><div class="pl" style="top:26.4px">5,100.00</div><div class="pl" style="top:46.9px">4,900.00</div><div class="pl" style="top:68.2px">4,700.00</div><div class="pl" style="top:90.4px">4,500.00</div><div class="pl" style="top:113.6px">4,300.00</div><div class="pl" style="top:137.9px">4,100.00</div><div class="pl" style="top:163.5px">3,900.00</div><div class="pl" style="top:190.4px">3,700.00</div><div class="pl" style="top:211.5px">3,550.00</div><div class="pl" style="top:226.1px">3,450.00</div><div class="pl" style="top:241.1px">3,350.00</div><div class="pl" style="top:259.8px">3,230.00</div><div class="pl" style="top:279.1px">3,110.00</div><div class="pl" style="top:299.2px">2,990.00</div><div class="pl" style="top:320.1px">2,870.00</div><div class="pl" style="top:353.2px">2,690.00</div><div class="pl" style="top:367.7px">2,615.00</div><div class="pl" style="top:383.5px">2,535.00</div><div class="pl" style="top:399.9px">2,455.00</div><div class="pl" style="top:416.8px">2,375.00</div><div class="pl" style="top:434.3px">2,295.00</div><div class="pl" style="top:452.4px">2,215.00</div><div class="pl" style="top:468.9px">2,145.00</div><div class="pl" style="top:483.3px">2,085.00</div><div class="pl" style="top:498.3px">2,025.00</div><div class="pl" style="top:512.6px">1,969.00</div><div class="pl" style="top:526.8px">1,915.00</div>
<div id="cur"><div style="top:0.5px;color:#fff;font-weight:bold">2,835.30</div><div style="top:7px;color:#e4e5ea">16:17:32</div></div>
<div class="tl" style="left:92.0px">Jul</div><div class="tl" style="left:222.0px">Aug</div><div class="tl" style="left:352.1px">Sep</div><div class="tl" style="left:477.9px">Oct</div><div class="tl" style="left:608.0px">Nov</div><div class="tl" style="left:733.8px">Dec</div><div class="tl b" style="left:863.9px">2026</div>
<div id="usdt">USDT</div>
<div id="lstrip"></div>
<div id="rstrip"></div>
<div id="bstrip"></div>
</div>
</body></html>
